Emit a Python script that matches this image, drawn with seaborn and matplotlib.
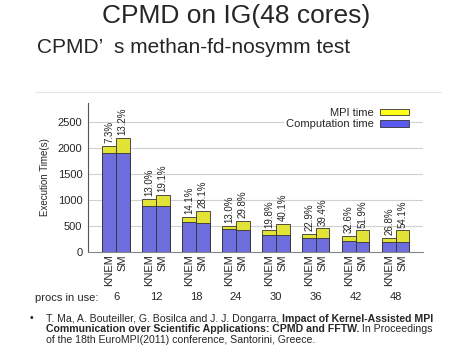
import pandas as pd
import seaborn as sns
import matplotlib.pyplot as plt
from matplotlib.patches import Patch
from matplotlib.lines import Line2D

# values
PROCS = [6, 12, 18, 24, 30, 36, 42, 48]
IMPLS = ["KNEM", "SM"]
KNEM_COMP = [1900, 885, 576, 444, 336, 274, 213, 198]
KNEM_MPI = [150, 132, 94, 66, 83, 81, 103, 72]
SM_COMP = [1910, 885, 564, 420, 323, 277, 202, 192]
SM_MPI = [290, 209, 221, 178, 217, 180, 217, 227]
KNEM_PCT = ["7.3%", "13.0%", "14.1%", "13.0%", "19.8%", "22.9%", "32.6%", "26.8%"]
SM_PCT = ["13.2%", "19.1%", "28.1%", "29.8%", "40.1%", "39.4%", "51.9%", "54.1%"]

BLUE = "#5a5af0"
YELLOW = "#ffff1a"
FONT = "Liberation Sans"


def build_frame():
    """
    Long-form table: one row per bar.
    """
    rows = []
    for i, p in enumerate(PROCS):
        rows.append({"procs": str(p), "impl": "KNEM", "comp": KNEM_COMP[i],
                     "total": KNEM_COMP[i] + KNEM_MPI[i], "pct": KNEM_PCT[i]})
        rows.append({"procs": str(p), "impl": "SM", "comp": SM_COMP[i],
                     "total": SM_COMP[i] + SM_MPI[i], "pct": SM_PCT[i]})
    return pd.DataFrame(rows)


def main():
    sns.set_style("white")
    plt.rcParams["font.family"] = [FONT, "DejaVu Sans"]

    df = build_frame()
    fig = plt.figure(figsize=(4.74, 3.55), dpi=100)
    ax = fig.add_axes([0.1857, 0.290, 0.7068, 0.420])

    # total (yellow) first, computation (blue) drawn over it
    sns.barplot(data=df, x="procs", y="total", hue="impl", hue_order=IMPLS,
                palette=[YELLOW, YELLOW], width=0.68, edgecolor="#333333",
                linewidth=0.6, errorbar=None, legend=False, ax=ax)
    n_top = len(ax.patches)
    sns.barplot(data=df, x="procs", y="comp", hue="impl", hue_order=IMPLS,
                palette=[BLUE, BLUE], width=0.68, edgecolor="#333333",
                linewidth=0.6, errorbar=None, legend=False, ax=ax)

    ax.set_xlim(-0.7, 7.68)
    ax.set_ylim(0, 2870)
    ax.set_yticks([0, 500, 1000, 1500, 2000, 2500])
    ax.yaxis.grid(True, color="#d0d0d0", linewidth=0.8)
    ax.set_axisbelow(True)
    ax.tick_params(axis="y", length=0, labelsize=8, pad=4)
    ax.set_ylabel("Execution Time(s)", fontsize=7, labelpad=6)
    ax.set_xlabel("")
    for s in ["top", "right"]:
        ax.spines[s].set_visible(False)
    ax.spines["left"].set_color("#555555")
    ax.spines["bottom"].set_color("#888888")

    # bar labels (KNEM / SM) on minor ticks, procs numbers on major ticks
    top_bars = ax.patches[:n_top]
    centers = []
    names = []
    for k, bar in enumerate(top_bars):
        impl_i = k // len(PROCS)
        grp = k % len(PROCS)
        centers.append(bar.get_x() + bar.get_width() / 2)
        names.append(IMPLS[impl_i])
        label = KNEM_PCT[grp] if impl_i == 0 else SM_PCT[grp]
        ax.annotate(label, (centers[-1], bar.get_height()),
                    xytext=(0, 2), textcoords="offset points",
                    rotation=90, ha="center", va="bottom", fontsize=7)
    ax.set_xticks(centers, minor=True)
    ax.set_xticklabels(names, minor=True, rotation=90, fontsize=8, va="top")
    ax.tick_params(axis="x", which="minor", length=0, pad=1.5)
    ax.tick_params(axis="x", which="major", length=0, pad=29, labelsize=8)

    fig.text(0.074, 0.16, "procs in use:", fontsize=8, va="center")

    # faint frame line above the plot area
    fig.add_artist(Line2D([0.074, 0.93], [0.741, 0.741], color="#e6e6e6", linewidth=0.8))

    # legend: label first, patch after
    handles = [Patch(facecolor=YELLOW, edgecolor="#333333", linewidth=0.6, label="MPI time"),
               Patch(facecolor=BLUE, edgecolor="#333333", linewidth=0.6, label="Computation time")]
    leg = ax.legend(handles=handles, loc="upper right", bbox_to_anchor=(0.98, 1.02),
                    markerfirst=False, fontsize=8, frameon=True, framealpha=1,
                    edgecolor="white", handlelength=2.6, handleheight=0.5,
                    labelspacing=0.15, handletextpad=0.5, borderpad=0.2)
    leg.get_frame().set_linewidth(0)

    # titles
    fig.text(0.498, 0.955, "CPMD on IG(48 cores)", fontsize=19, ha="center", va="center")
    fig.text(0.078, 0.866, "CPMD\u2019  s methan-fd-nosymm test", fontsize=15, va="center")

    # citation with mixed bold / normal text
    fs = 7.6
    fig.text(0.063, 0.090, "\u2022", fontsize=fs, va="bottom")
    t = fig.text(0.097, 0.088, "T. Ma, A. Bouteiller, G. Bosilca and J. J. Dongarra, ",
                 fontsize=fs, va="bottom")
    ax.annotate("Impact of Kernel-Assisted MPI", xy=(1, 0), xycoords=t,
                fontsize=fs, weight="bold", va="bottom", annotation_clip=False)
    t2 = fig.text(0.097, 0.058, "Communication over Scientific Applications: CPMD and FFTW.",
                  fontsize=fs, weight="bold", va="bottom")
    ax.annotate(" In Proceedings", xy=(1, 0), xycoords=t2,
                fontsize=fs, va="bottom", annotation_clip=False)
    fig.text(0.097, 0.028, "of the 18th EuroMPI(2011) conference, Santorini, Greece.",
             fontsize=fs, va="bottom")

    fig.savefig("out.png", dpi=100)


if __name__ == "__main__":
    main()
